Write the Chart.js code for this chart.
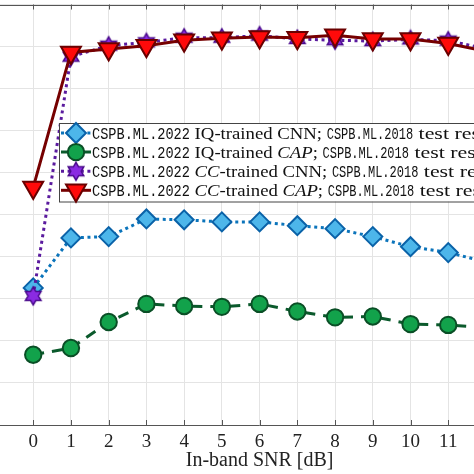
<!DOCTYPE html>
<html><head><meta charset="utf-8">
<script src="https://cdn.jsdelivr.net/npm/chart.js@4"></script>
<style>
html,body{margin:0;padding:0;width:474px;height:474px;overflow:hidden;background:#fff;}
#wrap{position:absolute;left:-18px;top:-9px;width:572px;height:483px;}
</style></head><body>
<div id="wrap"><canvas id="c"></canvas></div>
<script>
// ---- data ----
const snr   = [0,1,2,3,4,5,6,7,8,9,10,11,12];
const iqCnn = [0.326,0.445,0.448,0.490,0.488,0.483,0.483,0.474,0.467,0.448,0.424,0.410,0.388];
const iqCap = [0.167,0.183,0.245,0.288,0.283,0.281,0.288,0.270,0.256,0.258,0.240,0.238,0.231];
const ccCnn = [0.307,0.876,0.902,0.910,0.921,0.921,0.926,0.918,0.915,0.913,0.917,0.914,0.895];
const ccCap = [0.565,0.886,0.894,0.902,0.915,0.920,0.923,0.921,0.927,0.918,0.918,0.907,0.889];
const xMin = -1, xMax = 13;
const yMin = 0, yMax = 1;
const xLabel = 'In-band SNR [dB]';
const legendRows = [
  [['CSPB.ML.2022','tt'],[' IQ-trained CNN;','rm'],[' ','rm'],['CSPB.ML.2018','tt2'],[' test results','rm3']],
  [['CSPB.ML.2022','tt'],[' IQ-trained ','rm'],['CAP','it'],[';','rm'],[' ','rm'],['CSPB.ML.2018','tt2'],[' test results','rm3']],
  [['CSPB.ML.2022','tt'],[' ','rm'],['CC','it'],['-trained CNN;','rm'],[' ','rm'],['CSPB.ML.2018','tt2'],[' test results','rm3']],
  [['CSPB.ML.2022','tt'],[' ','rm'],['CC','it'],['-trained ','rm'],['CAP','it'],[';','rm'],[' ','rm'],['CSPB.ML.2018','tt2'],[' test results','rm3']]
];

// ---- styles ----
const OFFX = 18, OFFY = 9; // canvas offset relative to page
function makeHexagram(R, fill, stroke){
  const s = Math.ceil(2*R+4);
  const c = document.createElement('canvas'); c.width = s; c.height = s;
  const g = c.getContext('2d'); const cx = s/2, cy = s/2, r = R/Math.sqrt(3);
  g.beginPath();
  for (let k=0;k<12;k++){
    const a = -Math.PI/2 + k*Math.PI/6; const rr = (k%2===0)?R:r;
    const px = cx + rr*Math.cos(a), py = cy + rr*Math.sin(a);
    k===0 ? g.moveTo(px,py) : g.lineTo(px,py);
  }
  g.closePath(); g.fillStyle = fill; g.fill();
  g.lineWidth = 1.5; g.strokeStyle = stroke; g.stroke();
  return c;
}
const hexImg = makeHexagram(9, '#8a2be2', '#4a0a8c');

const S = [
  {line:'#0b74bb', dash:[3,3.6], fill:'#4db6ea', edge:'#0a62a8', kind:'diamond', r:9.5},
  {line:'#0b5a2c', dash:[11,8], fill:'#12a24b', edge:'#0a4f26', kind:'circle', r:8.2},
  {line:'#5a1a9e', dash:[3,3.6], fill:'#8a2be2', edge:'#4a0a8c', kind:'hex', r:9},
  {line:'#760000', dash:[], fill:'#ff0a0a', edge:'#6a0000', kind:'tri', r:11.5}
];
const seriesData = [iqCnn, iqCap, ccCnn, ccCap];

function pts(arr){ return snr.map((x,i)=>({x:x, y:arr[i]})); }
const datasets = seriesData.map((arr,i)=>{
  const s = S[i];
  const ps = s.kind==='diamond'?'rectRot': s.kind==='circle'?'circle': s.kind==='tri'?'triangle': hexImg;
  return {
    data: pts(arr), order: 4-i,
    borderColor: s.line, borderWidth: 3, borderDash: s.dash, borderCapStyle:'butt',
    tension: 0, fill:false,
    pointStyle: ps, pointRadius: s.r, pointHoverRadius: s.r,
    pointRotation: s.kind==='tri'?180:0,
    pointBackgroundColor: s.fill, pointBorderColor: s.edge, pointBorderWidth: 2
  };
});

function drawMarker(ctx, s, x, y){
  ctx.save();
  ctx.fillStyle = s.fill; ctx.strokeStyle = s.edge; ctx.lineWidth = 2; ctx.setLineDash([]);
  ctx.beginPath();
  if (s.kind==='diamond'){
    const r = s.r*1.05;
    ctx.moveTo(x, y-r); ctx.lineTo(x+r, y); ctx.lineTo(x, y+r); ctx.lineTo(x-r, y); ctx.closePath();
    ctx.fill(); ctx.stroke();
  } else if (s.kind==='circle'){
    ctx.arc(x, y, s.r, 0, Math.PI*2); ctx.fill(); ctx.stroke();
  } else if (s.kind==='tri'){
    const r = s.r;
    for (let k=0;k<3;k++){
      const a = Math.PI/2 + k*2*Math.PI/3;
      const px = x + r*Math.cos(a), py = y + r*Math.sin(a);
      k===0 ? ctx.moveTo(px,py) : ctx.lineTo(px,py);
    }
    ctx.closePath(); ctx.fill(); ctx.stroke();
  } else {
    ctx.drawImage(hexImg, x-hexImg.width/2, y-hexImg.height/2);
  }
  ctx.restore();
}

const FONTS = {
  tt:  {font:'16px "Liberation Mono"', sx:0.85},
  tt2: {font:'16px "Liberation Mono"', sx:0.75},
  rm:  {font:'17.5px "Liberation Serif"', sx:1.07},
  rm3: {font:'17.5px "Liberation Serif"', sx:1.25},
  it:  {font:'italic 17.5px "Liberation Serif"', sx:1.07}
};

const axesPlugin = {
  id:'axesDeco',
  beforeDatasetsDraw(chart){
    const {ctx, chartArea:a, scales:{x}} = chart;
    ctx.save();
    ctx.strokeStyle = '#555'; ctx.lineWidth = 1;
    ctx.beginPath(); ctx.moveTo(a.left, Math.round(a.top)+0.5); ctx.lineTo(a.right, Math.round(a.top)+0.5); ctx.stroke();
    for (let v=xMin; v<=xMax; v++){
      const px = Math.round(x.getPixelForValue(v))+0.5;
      ctx.beginPath();
      ctx.moveTo(px, a.top); ctx.lineTo(px, a.top+5);
      ctx.moveTo(px, a.bottom); ctx.lineTo(px, a.bottom-5);
      ctx.stroke();
    }
    ctx.restore();
  },
  afterDatasetsDraw(chart){
    const ctx = chart.ctx;
    const bx = 59+OFFX, by = 123+OFFY, bh = 78.5, bw = 600;
    ctx.save();
    ctx.fillStyle = '#fff'; ctx.fillRect(bx, by, bw, bh);
    ctx.strokeStyle = '#444'; ctx.lineWidth = 1; ctx.strokeRect(bx+0.5, by+0.5, bw, bh);
    const base0 = 138.5+OFFY, step = 19.1;
    legendRows.forEach((row, i)=>{
      const s = S[i];
      const yb = base0 + i*step, ym = yb - 5.5;
      ctx.save();
      ctx.strokeStyle = s.line; ctx.lineWidth = 3; ctx.setLineDash(s.dash); ctx.lineCap='butt';
      ctx.beginPath(); ctx.moveTo(61+OFFX, ym); ctx.lineTo(91+OFFX, ym); ctx.stroke();
      ctx.restore();
      drawMarker(ctx, s, 76+OFFX, ym);
      let tx = 92+OFFX;
      ctx.fillStyle = '#111'; ctx.textBaseline = 'alphabetic'; ctx.textAlign = 'left';
      row.forEach(([t, f])=>{
        const F = FONTS[f];
        ctx.font = F.font;
        ctx.save(); ctx.translate(tx, yb); ctx.scale(F.sx, 1); ctx.fillText(t, 0, 0); ctx.restore();
        tx += ctx.measureText(t).width * F.sx;
      });
    });
    ctx.restore();
  }
};

new Chart(document.getElementById('c'), {
  type:'line',
  data:{ datasets },
  plugins:[axesPlugin],
  options:{
    responsive:true, maintainAspectRatio:false, animation:false,
    layout:{ padding:{ left:0, right:30.3, top:5, bottom:0 } },
    plugins:{ legend:{display:false}, tooltip:{enabled:false} },
    events:[],
    scales:{
      x:{
        type:'linear', min:xMin, max:xMax,
        afterFit(s){ s.height = 49; },
        grid:{ color:'#e4e4e4', lineWidth:1, drawTicks:false },
        border:{ display:true, color:'#555', width:1 },
        ticks:{ stepSize:1, autoSkip:false, padding:6, color:'#222', maxRotation:0,
          font:{ family:'"Liberation Serif"', size:19 },
          callback:(v)=> (v>=0 ? String(v) : '') },
        title:{ display:true, text:xLabel, color:'#222', padding:{top:0,bottom:1},
          font:{ family:'"Liberation Serif"', size:20 } }
      },
      y:{
        min:yMin, max:yMax,
        afterFit(s){ s.width = 0; },
        grid:{ color:'#e4e4e4', lineWidth:1, drawTicks:false },
        border:{ display:false },
        ticks:{ display:false, stepSize:0.1 }
      }
    }
  }
});
</script>
</body></html>
